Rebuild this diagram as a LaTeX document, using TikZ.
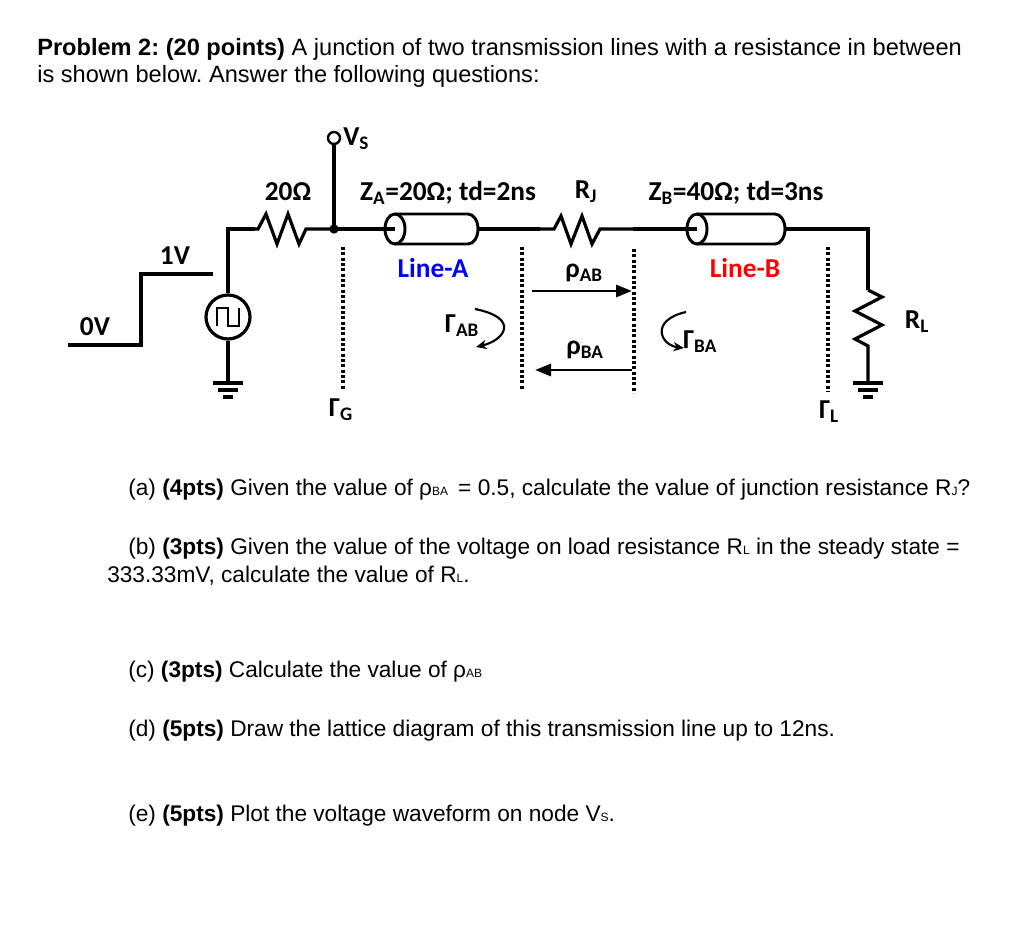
\documentclass[tikz,border=0pt]{standalone}
\usepackage{fontspec}
\setmainfont{Liberation Sans}
\newfontfamily\calfont{Carlito}
\usetikzlibrary{arrows.meta}
\frenchspacing
\begin{document}
\begin{tikzpicture}[x=0.75pt,y=-0.75pt,
  w/.style={line width=2.4pt},
  dots/.style={line width=2.4pt,dash pattern=on 2.2pt off 1.8pt},
  lab/.style={font=\calfont\bfseries\fontsize{20.5}{20}\selectfont,inner sep=0pt},
  txt/.style={font=\fontsize{17}{20}\selectfont,inner sep=0pt,anchor=west},
  arr/.style={line width=2.2pt,-{Triangle[length=12pt,width=9pt]}}]
\useasboundingbox (0,0) rectangle (1024,947);
% text
\node[txt,font=\fontsize{17.7}{20}\selectfont] (t1) at (37,49) {\textbf{Problem 2: (20 points)} A junction of two transmission lines with a resistance in between};
\node[txt,font=\fontsize{17.7}{20}\selectfont] (t2) at (37,76) {is shown below. Answer the following questions:};
% step
\draw[w] (68,345) -- (141,345) -- (141,274) -- (213,274);
\node[lab] (v0) at (95,327) {0V};
\node[lab] (v1) at (175,256) {1V};
% source
\node[draw,circle,line width=2.4pt,minimum size=33pt,inner sep=0pt] (src) at (228,317) {};
\draw[line width=2pt] (217,326) -- (217,308) -- (228,308) -- (228,326) -- (239,326) -- (239,308);
\coordinate (c1) at (228,229);
\draw[w] (src.north) -- (c1) -- (255,229);
\draw[w] (255,229) -- (258,229) -- (266,214) -- (277,244) -- (288,214) -- (299,244) -- (306,229) -- (334,229);
\node[lab] (r20) at (288,192) {20Ω};
% ground source
\coordinate (g1) at (228,383);
\draw[w] (src.south) -- (g1);
\draw[line width=2.8pt] (213,383) -- (243,383) (218,390) -- (238,390) (223,397) -- (233,397);
% junction & Vs
\fill (334,229) circle (3.5pt);
\node[draw,circle,line width=1.8pt,minimum size=9pt,inner sep=0pt] (vs) at (334,138) {};
\draw[w] (vs.south) -- (334,229);
\node[lab,anchor=west] (vst) at (343,139) {V\textsubscript{S}};
% line A
\draw[w] (334,229) -- (395,229);
\draw[line width=2.2pt] (395,214) -- (468,214) arc (90:-90:7.5pt and 11.25pt) -- (395,244);
\draw[line width=2.2pt] (395,229) ellipse (7.5pt and 11.25pt);
\draw[w] (478,229) -- (540,229);
\node[lab] (za) at (448,193) {Z\textsubscript{A}=20Ω; td=2ns};
\node[lab,text=blue] (la) at (433,268) {Line-A};
% RJ
\draw[w] (540,229) -- (554,229) -- (561,216) -- (571,244) -- (582,216) -- (592,244) -- (600,229) -- (633,229);
\node[lab] (rj) at (586,192) {R\textsubscript{J}};
% line B
\draw[w] (633,229) -- (697,229);
\draw[line width=2.2pt] (697,214) -- (775,214) arc (90:-90:7.5pt and 11.25pt) -- (697,244);
\draw[line width=2.2pt] (697,229) ellipse (7.5pt and 11.25pt);
\draw[w] (785,229) -- (868,229) -- (868,290);
\node[lab] (zb) at (736,193) {Z\textsubscript{B}=40Ω; td=3ns};
\node[lab,text=red] (lb) at (745,268) {Line-B};
% RL
\draw[w] (868,290) -- (882,297) -- (855,311) -- (882,325) -- (855,339) -- (868,346) -- (868,383);
\draw[line width=2.8pt] (853,383) -- (883,383) (858,390) -- (878,390) (863,397) -- (873,397);
\node[lab] (rl) at (917,322) {R\textsubscript{L}};
% dotted
\draw[dots] (343,247) -- (343,390);
\draw[dots] (522,247) -- (522,390);
\draw[dots] (634,249) -- (634,393);
\draw[dots] (828,247) -- (828,392);
\node[lab] (gg) at (341,410) {Γ\textsubscript{G}};
\node[lab] (gl) at (829,412) {Γ\textsubscript{L}};
% rho arrows
\draw[arr] (532,291) -- (632,291);
\node[lab] (rab) at (584,273) {ρ\textsubscript{AB}};
\draw[arr] (632,370) -- (535,370);
\node[lab] (rba) at (585,350) {ρ\textsubscript{BA}};
% gamma AB/BA
\node[lab] (gab) at (462,326) {Γ\textsubscript{AB}};
\draw[line width=1.6pt,-{Stealth[length=8pt,width=7pt]}] (475,309) .. controls (520,318) and (505,340) .. (476,347);
\node[lab] (gba) at (700,342) {Γ\textsubscript{BA}};
\draw[line width=1.6pt,-{Stealth[length=8pt,width=7pt]}] (686,312) .. controls (650,320) and (660,345) .. (684,348);
% questions
\node[txt] (qa) at (128,490) {(a) \textbf{(4pts)} Given the value of ρ{\small BA} \,= 0.5, calculate the value of junction resistance R{\small J}?};
\node[txt] (qb) at (128,549) {(b) \textbf{(3pts)} Given the value of the voltage on load resistance R{\small L} in the steady state =};
\node[txt] (qb2) at (107,576) {333.33mV, calculate the value of R{\small L}.};
\node[txt] (qc) at (128,672) {(c) \textbf{(3pts)} Calculate the value of ρ{\small AB}};
\node[txt] (qd) at (128,731) {(d) \textbf{(5pts)} Draw the lattice diagram of this transmission line up to 12ns.};
\node[txt] (qe) at (128,816) {(e) \textbf{(5pts)} Plot the voltage waveform on node V{\small S}.};
\end{tikzpicture}
\end{document}
